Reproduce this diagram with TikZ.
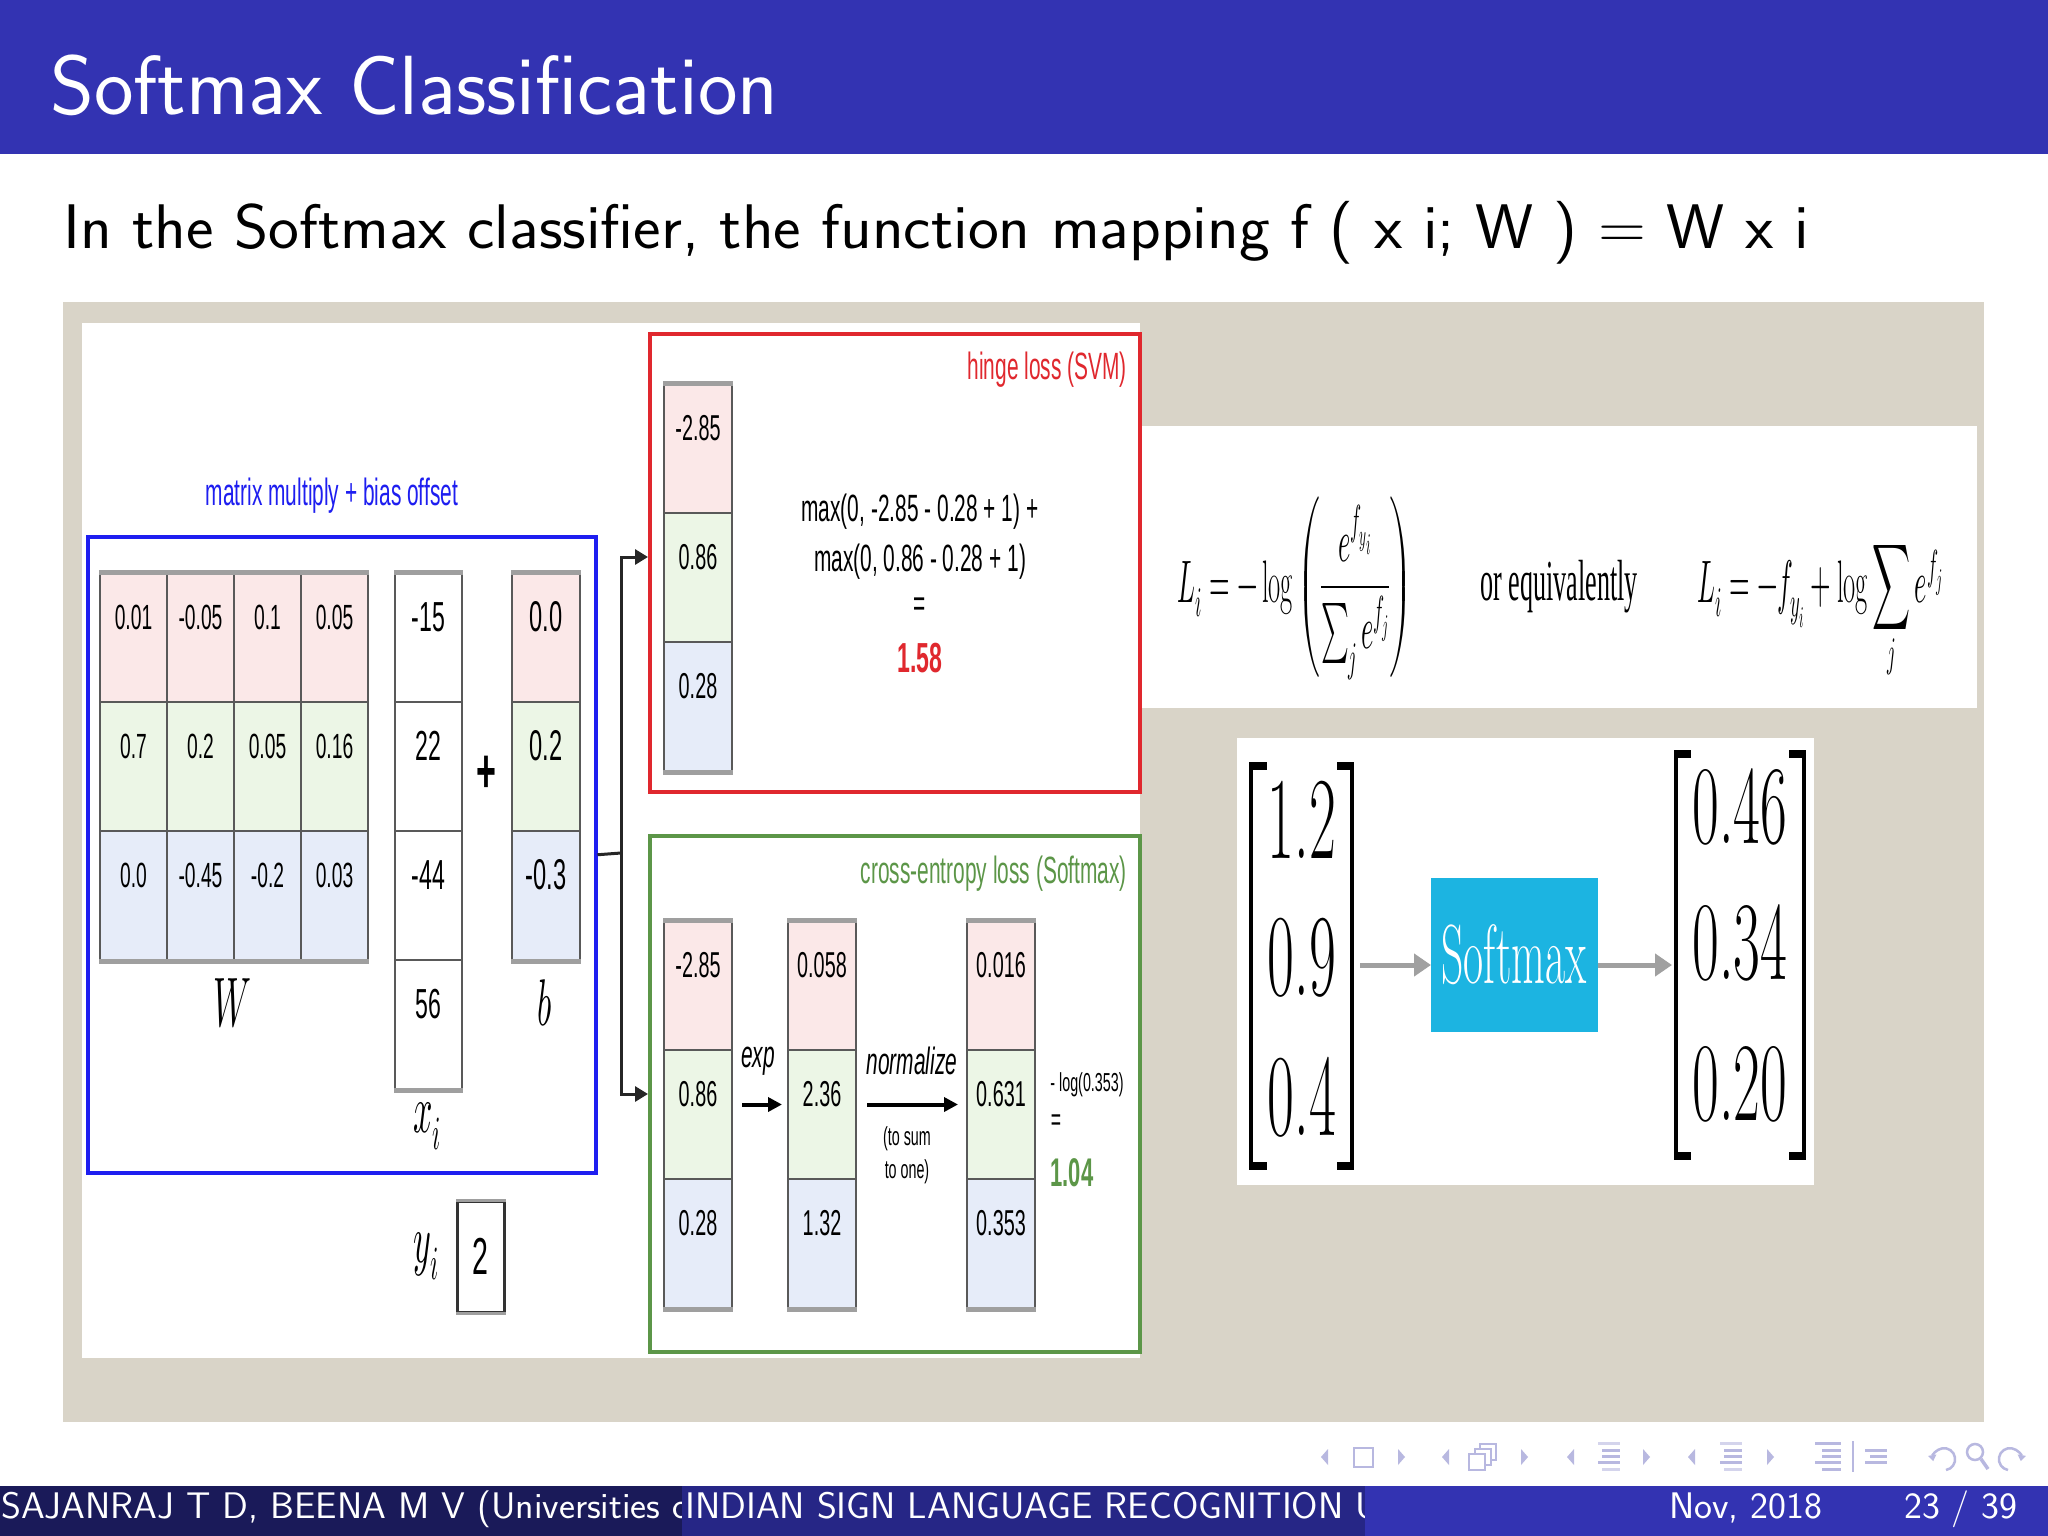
\documentclass[tikz,border=0pt]{standalone}
\usepackage{fontspec}
\usepackage{unicode-math}
\usetikzlibrary{arrows.meta}
\newfontfamily\nf[FakeStretch=0.55]{Liberation Sans}
\newfontfamily\serifn{Liberation Serif}
\newcommand{\fsz}[1]{\fontsize{#1}{#1}\selectfont}
\newcommand{\sqz}[2]{\scalebox{#1}[1]{#2}}
\definecolor{beamerblue}{RGB}{51,51,178}
\definecolor{footA}{RGB}{26,26,89}
\definecolor{footB}{RGB}{38,38,134}
\definecolor{navc}{RGB}{184,184,224}
\definecolor{panel}{RGB}{217,212,200}
\definecolor{cpink}{RGB}{251,232,232}
\definecolor{cgreen}{RGB}{236,246,230}
\definecolor{cblue}{RGB}{230,236,249}
\definecolor{sred}{RGB}{224,40,46}
\definecolor{sgreen}{RGB}{92,150,72}
\definecolor{sblue}{RGB}{30,30,240}
\definecolor{cyanbox}{RGB}{28,180,225}
\definecolor{garrow}{RGB}{160,160,160}
\newcommand{\cellat}[8]{%
  \node[cellbox, fill=#6, minimum width=#4pt, minimum height=#5pt, anchor=north west] (#1) at (#2,#3) {};
  \node[inner sep=0pt, font=\nf\fsz{#7}, text=black] (#1t) at ([yshift=-45pt]#1.north) {#8};}
\begin{document}
\begin{tikzpicture}[x=1pt,y=-1pt,
  cellbox/.style={draw=gray!70!black, line width=2pt, inner sep=0pt},
  colbar/.style={line width=5pt, draw=gray!75},
  frame/.style={line width=3.5pt, inner sep=0pt, anchor=north west},
  lbl/.style={inner sep=0pt, font=\nf\fsz{38}},
  conn/.style={line width=3pt, draw=black!85},
  darr/.style={line width=4pt, draw=black, -{Triangle[length=14pt,width=14pt]}},
  garr/.style={line width=5pt, draw=garrow, -{Triangle[length=17pt,width=22pt]}},
  foot/.style={inner sep=0pt, font=\sffamily\fsz{37}, text=white, anchor=base west}]
\useasboundingbox (0,0) rectangle (2048,1536);
% slide background
\fill[white] (0,0) rectangle (2048,1536);
\fill[beamerblue] (0,0) rectangle (2048,154);
\node[inner sep=0pt, anchor=base west, font=\sffamily\fsz{84}, text=white] (title) at (50,115) {Softmax Classification};
\node[inner sep=0pt, anchor=base west, font=\sffamily\fsz{63}] (body) at (63,248) {\sqz{1.04}{In the Softmax classifier, the function mapping f ( x i; W ) = W x i}};
% picture panels
\fill[panel] (63,302) rectangle (1984,1422);
\fill[white] (82,323) rectangle (1140,1358);
\fill[white] (1140,426) rectangle (1977,708);
\fill[white] (1237,738) rectangle (1814,1185);
% ---------- matrix multiply box
\node[frame, draw=sblue, minimum width=508pt, minimum height=636pt] (mm) at (86,535) {};
\node[lbl, text=sblue] (mmlbl) at (332,496) {matrix multiply + bias offset};
% W
\cellat{w11}{99}{572}{67}{129}{cpink}{35}{0.01}
\cellat{w12}{166}{572}{67}{129}{cpink}{35}{-0.05}
\cellat{w13}{233}{572}{67}{129}{cpink}{35}{0.1}
\cellat{w14}{300}{572}{67}{129}{cpink}{35}{0.05}
\cellat{w21}{99}{701}{67}{129}{cgreen}{35}{0.7}
\cellat{w22}{166}{701}{67}{129}{cgreen}{35}{0.2}
\cellat{w23}{233}{701}{67}{129}{cgreen}{35}{0.05}
\cellat{w24}{300}{701}{67}{129}{cgreen}{35}{0.16}
\cellat{w31}{99}{830}{67}{129}{cblue}{35}{0.0}
\cellat{w32}{166}{830}{67}{129}{cblue}{35}{-0.45}
\cellat{w33}{233}{830}{67}{129}{cblue}{35}{-0.2}
\cellat{w34}{300}{830}{67}{129}{cblue}{35}{0.03}
\draw[colbar] (w11.north west) -- (w14.north east);
\draw[colbar] (w31.south west) -- (w34.south east);
% x_i
\cellat{x1}{394}{572}{67}{129}{white}{42}{-15}
\cellat{x2}{394}{701}{67}{129}{white}{42}{22}
\cellat{x3}{394}{830}{67}{129}{white}{42}{-44}
\cellat{x4}{394}{959}{67}{129}{white}{42}{56}
\draw[colbar] (x1.north west) -- (x1.north east);
\draw[colbar] (x4.south west) -- (x4.south east);
% b
\cellat{b1}{511}{572}{68}{129}{cpink}{43}{0.0}
\cellat{b2}{511}{701}{68}{129}{cgreen}{43}{0.2}
\cellat{b3}{511}{830}{68}{129}{cblue}{43}{-0.3}
\draw[colbar] (b1.north west) -- (b1.north east);
\draw[colbar] (b3.south west) -- (b3.south east);
\node[inner sep=0pt, font=\nf\fsz{62}\bfseries] (plus) at (486,774) {+};
\node[inner sep=0pt] (Wl) at (232,1003) {\sqz{0.5}{\fsz{70}$W$}};
\node[inner sep=0pt] (bl) at (545,1003) {\sqz{0.5}{\fsz{66}$b$}};
\node[inner sep=0pt] (xl) at (427,1126) {\sqz{0.5}{\fsz{68}$x_i$}};
\node[inner sep=0pt] (yl) at (426,1256) {\sqz{0.5}{\fsz{68}$y_i$}};
\node[draw=black!80, line width=2.5pt, fill=white, minimum width=47pt, minimum height=111pt, inner sep=0pt, anchor=north west] (ybox) at (456,1200) {};
\draw[colbar, line width=3pt] (ybox.north west) -- (ybox.north east);
\draw[colbar, line width=3pt] (ybox.south west) -- (ybox.south east);
\node[inner sep=0pt, font=\nf\fsz{52}] (yv) at (ybox.center) {2};
% ---------- hinge loss box
\node[frame, draw=sred, minimum width=490pt, minimum height=458pt] (svm) at (648,332) {};
\node[lbl, text=sred, anchor=east] (svmlbl) at (1127,370) {hinge loss (SVM)};
\cellat{r1}{663}{383}{68}{129}{cpink}{36}{-2.85}
\cellat{r2}{663}{512}{68}{129}{cgreen}{36}{0.86}
\cellat{r3}{663}{641}{68}{129}{cblue}{36}{0.28}
\draw[colbar] (r1.north west) -- (r1.north east);
\draw[colbar] (r3.south west) -- (r3.south east);
\node[lbl] (h1) at (920,512) {max(0, -2.85 - 0.28 + 1) +};
\node[lbl] (h2) at (920,562) {max(0, 0.86 - 0.28 + 1)};
\node[lbl] (h3) at (920,607) {=};
\node[lbl, font=\nf\fsz{42}\bfseries, text=sred] (h4) at (920,658) {1.58};
% ---------- cross-entropy box
\node[frame, draw=sgreen, minimum width=490pt, minimum height=516pt] (ce) at (648,834) {};
\node[lbl, text=sgreen, anchor=east] (celbl) at (1127,874) {cross-entropy loss (Softmax)};
\cellat{ca1}{663}{920}{68}{129}{cpink}{36}{-2.85}
\cellat{ca2}{663}{1049}{68}{129}{cgreen}{36}{0.86}
\cellat{ca3}{663}{1178}{68}{129}{cblue}{36}{0.28}
\cellat{cb1}{787}{920}{68}{129}{cpink}{36}{0.058}
\cellat{cb2}{787}{1049}{68}{129}{cgreen}{36}{2.36}
\cellat{cb3}{787}{1178}{68}{129}{cblue}{36}{1.32}
\cellat{cc1}{966}{920}{68}{129}{cpink}{36}{0.016}
\cellat{cc2}{966}{1049}{68}{129}{cgreen}{36}{0.631}
\cellat{cc3}{966}{1178}{68}{129}{cblue}{36}{0.353}
\foreach \c in {ca,cb,cc}{
  \draw[colbar] (\c1.north west) -- (\c1.north east);
  \draw[colbar] (\c3.south west) -- (\c3.south east);}
\node[lbl, font=\nf\fsz{38}\itshape] (expl) at (758,1061) {exp};
\node[lbl, font=\nf\fsz{38}\itshape] (norml) at (912,1061) {normalize};
\node[lbl, font=\nf\fsz{26}] (ts1) at (907,1139) {(to sum};
\node[lbl, font=\nf\fsz{26}] (ts2) at (907,1172) {to one)};
\draw[darr] ([xshift=9pt,yshift=10pt]ca2.east) -- ([xshift=-5pt,yshift=10pt]cb2.west);
\draw[darr] ([xshift=10pt,yshift=10pt]cb2.east) -- ([xshift=-8pt,yshift=10pt]cc2.west);
\node[lbl, font=\nf\fsz{26}] (lg) at (1087,1085) {- log(0.353)};
\node[lbl, font=\nf\fsz{32}] (lgeq) at (1056,1123) {=};
\node[lbl, font=\nf\fsz{40}\bfseries, text=sgreen] (lgv) at (1072,1173) {1.04};
% ---------- connectors
\coordinate (jn) at (621,853);
\draw[conn] (mm.east) -- (jn);
\draw[conn, -{Triangle[length=13pt,width=15pt]}] (jn) |- (svm.west |- r2t);
\draw[conn, -{Triangle[length=13pt,width=15pt]}] (jn) |- (ce.west |- ca2t);
% ---------- formulas
\node[inner sep=0pt, anchor=base] (f1) at (1295,602) {\sqz{0.44}{\fsz{60}$\displaystyle L_i = -\log\left(\frac{e^{f_{y_i}}}{\sum_j e^{f_j}}\right)$}};
\node[inner sep=0pt, anchor=base] (oreq) at (1559,600) {\sqz{0.45}{\serifn\fsz{58}or equivalently}};
\node[inner sep=0pt, anchor=base] (f2) at (1820,602) {\sqz{0.44}{\fsz{60}$\displaystyle L_i = -f_{y_i} + \log\sum_j e^{f_j}$}};
% ---------- softmax illustration
\draw[line width=4pt] (1251,762) -- (1251,1170);
\fill (1249,762) rectangle (1267,770);
\fill (1249,1162) rectangle (1267,1170);
\draw[line width=4pt] (1352,762) -- (1352,1170);
\fill (1337,762) rectangle (1354,770);
\fill (1337,1162) rectangle (1354,1170);
\node[inner sep=0pt] (i1) at (1302,820) {\sqz{0.5}{\fsz{117}1.2}};
\node[inner sep=0pt] (i2) at (1302,958) {\sqz{0.5}{\fsz{117}0.9}};
\node[inner sep=0pt] (i3) at (1302,1097) {\sqz{0.5}{\fsz{117}0.4}};
\draw[line width=4pt] (1676,750) -- (1676,1160);
\fill (1674,750) rectangle (1691,758);
\fill (1674,1152) rectangle (1691,1160);
\draw[line width=4pt] (1804,750) -- (1804,1160);
\fill (1789,750) rectangle (1806,758);
\fill (1789,1152) rectangle (1806,1160);
\node[inner sep=0pt] (o1) at (1740,807) {\sqz{0.52}{\fsz{112}0.46}};
\node[inner sep=0pt] (o2) at (1740,943) {\sqz{0.52}{\fsz{112}0.34}};
\node[inner sep=0pt] (o3) at (1740,1084) {\sqz{0.52}{\fsz{112}0.20}};
\node[fill=cyanbox, minimum width=167pt, minimum height=154pt, inner sep=0pt, anchor=north west] (smx) at (1431,878) {};
\node[inner sep=0pt, text=white] (smxt) at (1514,955) {\sqz{0.52}{\fsz{84}Softmax}};
\coordinate (vin) at (1360,965);
\coordinate (vout) at (1672,965);
\draw[garr] (vin) -- (smx.west |- vin);
\draw[garr] (smx.east |- vin) -- (vout);
% ---------- navigation symbols
\foreach \x in {1321,1442,1567,1688}{\fill[navc] (\x,1457) -- (\x+7,1449) -- (\x+7,1465) -- cycle;}
\foreach \x in {1398,1521,1643,1767}{\fill[navc] (\x+7,1457) -- (\x,1449) -- (\x,1465) -- cycle;}
\draw[navc, line width=2.5pt] (1354,1448) rectangle (1373,1467);
\draw[navc, line width=2.5pt, fill=white] (1480,1444) rectangle (1496,1460);
\draw[navc, line width=2.5pt, fill=white] (1475,1449) rectangle (1491,1465);
\draw[navc, line width=2.5pt, fill=white] (1469,1454) rectangle (1485,1470);
\foreach \x in {1598,1720}{
  \fill[navc!60] (\x,1442) rectangle (\x+22,1445);
  \fill[navc] (\x+4,1449) rectangle (\x+22,1452);
  \fill[navc] (\x+4,1455) rectangle (\x+22,1458);
  \fill[navc] (\x,1461) rectangle (\x+22,1464);
  \fill[navc!60] (\x+4,1468) rectangle (\x+22,1471);}
\fill[navc] (1815,1442) rectangle (1841,1445);
\fill[navc] (1822,1449) rectangle (1841,1452);
\fill[navc] (1822,1455) rectangle (1841,1458);
\fill[navc] (1815,1461) rectangle (1841,1464);
\fill[navc] (1822,1468) rectangle (1841,1471);
\draw[navc, line width=1.5pt] (1853,1441) -- (1853,1472);
\fill[navc] (1865,1449) rectangle (1887,1452);
\fill[navc] (1870,1455) rectangle (1887,1458);
\fill[navc] (1865,1461) rectangle (1887,1464);
\draw[navc, line width=2.5pt, -{Triangle[length=6pt,width=8pt]}] (1946,1470) arc[start angle=-80, end angle=190, radius=11pt];
\draw[navc, line width=2.5pt] (1975,1452) circle[radius=8pt];
\draw[navc, line width=3.5pt] (1981,1459) -- (1988,1469);
\draw[navc, line width=2.5pt, -{Triangle[length=6pt,width=8pt]}] (2008,1470) arc[start angle=260, end angle=-10, radius=11pt];
% ---------- footer
\fill[footA] (0,1486) rectangle (682,1536);
\begin{scope}
\clip (0,1486) rectangle (682,1536);
\node[foot] (fa) at (1,1518) {\sqz{1.03}{SAJANRAJ T D, BEENA M V (Universities of}};
\end{scope}
\fill[footB] (682,1486) rectangle (1365,1536);
\begin{scope}
\clip (682,1486) rectangle (1365,1536);
\node[foot] (fb) at (685,1518) {\sqz{1.03}{INDIAN SIGN LANGUAGE RECOGNITION USING}};
\end{scope}
\fill[beamerblue] (1365,1486) rectangle (2048,1536);
\node[foot] (fc) at (1669,1518) {\sqz{1.03}{Nov, 2018}};
\node[foot] (fd) at (1904,1518) {\sqz{1.03}{23 / 39}};
\end{tikzpicture}
\end{document}
